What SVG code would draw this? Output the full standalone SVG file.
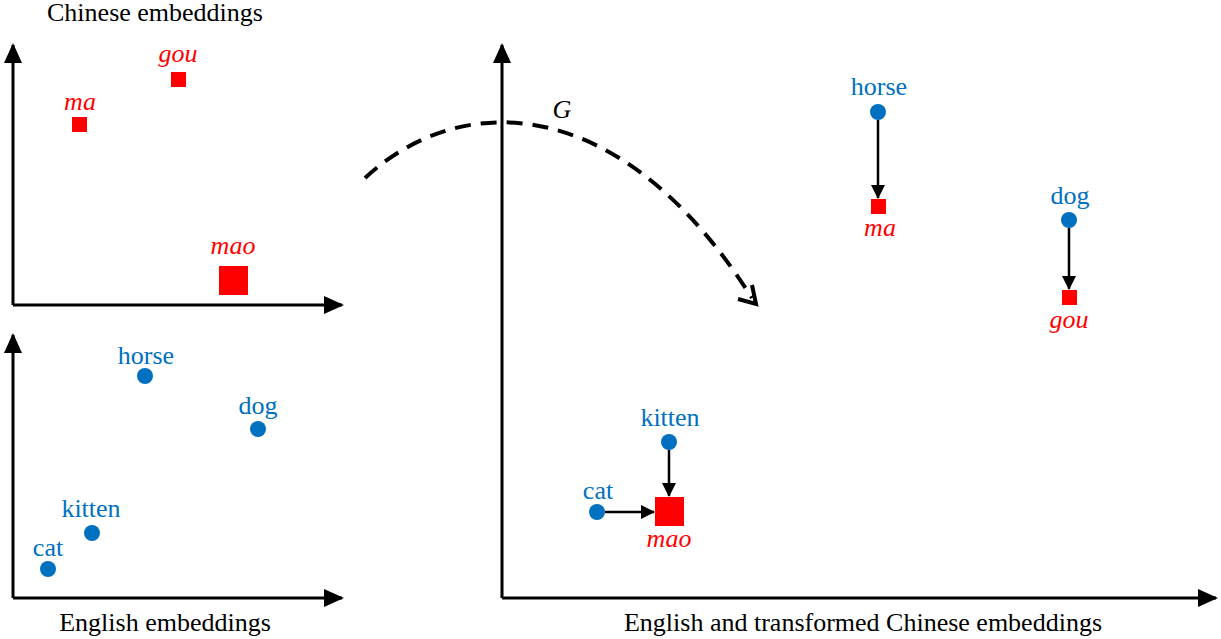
<svg xmlns="http://www.w3.org/2000/svg" width="1221" height="639" viewBox="0 0 1221 639">
<style>
text{font-family:"Liberation Serif","Times New Roman",serif;font-size:26px;text-anchor:middle}
.en{fill:#0070c0}
.zh{fill:#ff0000;font-style:italic}
.blk{fill:#000}
.ax{stroke:#000;stroke-width:3;fill:none}
.dot{fill:#0070c0}
.sq{fill:#ff0000}
.ar{stroke:#000;stroke-width:2.5;fill:none}
</style>
<defs>
<marker id="axh" markerWidth="10" markerHeight="10" refX="9" refY="5" orient="auto" markerUnits="userSpaceOnUse" viewBox="0 0 10 10"><path d="M0,0 L10,5 L0,10 z" fill="#000" transform="scale(1)"/></marker>
<marker id="axb" markerWidth="20" markerHeight="18" refX="18" refY="9" orient="auto" markerUnits="userSpaceOnUse"><path d="M0,0 L20,9 L0,18 z" fill="#000"/></marker>
<marker id="ah" markerWidth="14" markerHeight="14" refX="13" refY="7" orient="auto" markerUnits="userSpaceOnUse"><path d="M0,0 L14,7 L0,14 z" fill="#000"/></marker>
</defs>
<g id="panel-chinese">
<text x="155" y="21" class="blk">Chinese embeddings</text>
<path class="ax" d="M13,305 V45" marker-end="url(#axb)"/>
<path class="ax" d="M13,305 H342" marker-end="url(#axb)"/>
<rect class="sq" x="72" y="117" width="15" height="15"/><text x="80" y="110" class="zh">ma</text>
<rect class="sq" x="171" y="72" width="15" height="15"/><text x="178" y="62" class="zh">gou</text>
<rect class="sq" x="219" y="266" width="29" height="29"/><text x="233" y="254" class="zh">mao</text>
</g>
<g id="panel-english">
<text x="165" y="631" class="blk">English embeddings</text>
<path class="ax" d="M13,598 V335" marker-end="url(#axb)"/>
<path class="ax" d="M13,598 H342" marker-end="url(#axb)"/>
<circle class="dot" cx="145" cy="376" r="8"/><text x="146" y="364" class="en">horse</text>
<circle class="dot" cx="258" cy="429" r="8"/><text x="258" y="414" class="en">dog</text>
<circle class="dot" cx="92" cy="533" r="8"/><text x="91" y="517" class="en">kitten</text>
<circle class="dot" cx="48" cy="569" r="8"/><text x="48" y="556" class="en">cat</text>
</g>
<g id="panel-combined">
<text x="863" y="631" class="blk">English and transformed Chinese embeddings</text>
<path class="ax" d="M502,598 V45" marker-end="url(#axb)"/>
<path class="ax" d="M502,598 H1216" marker-end="url(#axb)"/>
<g id="horse"><circle class="dot" cx="878" cy="112" r="8"/><text x="879" y="95" class="en">horse</text></g>
<g id="ma"><rect class="sq" x="871" y="199" width="15" height="15"/><text x="880" y="236" class="zh">ma</text></g>
<g id="dog"><circle class="dot" cx="1069" cy="220" r="8"/><text x="1070" y="204" class="en">dog</text></g>
<g id="gou"><rect class="sq" x="1062" y="290" width="15" height="15"/><text x="1069" y="328" class="zh">gou</text></g>
<g id="kitten"><circle class="dot" cx="669" cy="442" r="8"/><text x="670" y="426" class="en">kitten</text></g>
<g id="mao"><rect class="sq" x="655" y="497" width="29" height="29"/><text x="669" y="547" class="zh">mao</text></g>
<g id="cat"><circle class="dot" cx="597" cy="512" r="8"/><text x="598" y="499" class="en">cat</text></g>
</g>
<g id="connectors">
<path class="ar" d="M878,120 V198" marker-end="url(#ah)"/>
<path class="ar" d="M1069,228 V289" marker-end="url(#ah)"/>
<path class="ar" d="M669,450 V496" marker-end="url(#ah)"/>
<path class="ar" d="M605,512 H654" marker-end="url(#ah)"/>
<path d="M365,178 C460,90 620,90 752,298" stroke="#000" stroke-width="4" fill="none" stroke-dasharray="16,10"/>
<path d="M738,299 L756,304 L752,285" stroke="#000" stroke-width="4" fill="none"/>
<text x="562" y="118" class="blk" font-style="italic">G</text>
</g>
</svg>
